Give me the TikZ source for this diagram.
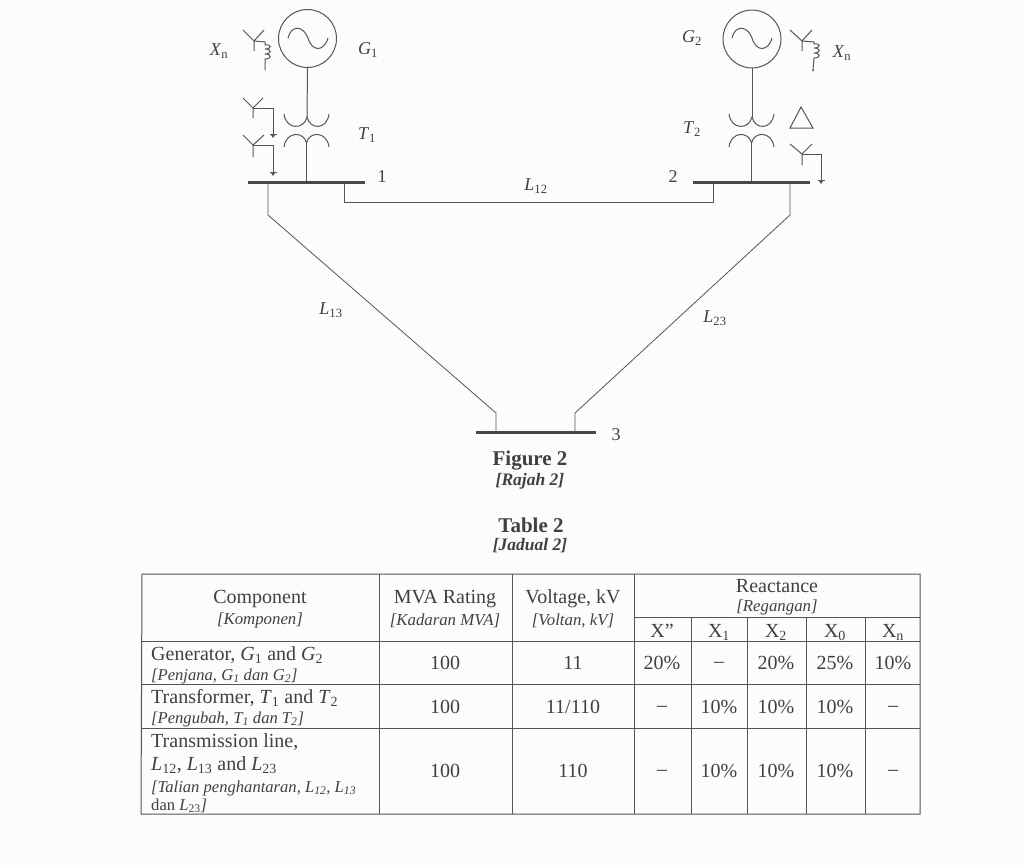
\documentclass[tikz,border=0pt]{standalone}
\usepackage{fontspec}
\setmainfont{Liberation Serif}
\definecolor{ink}{HTML}{404040}
\definecolor{wire}{HTML}{555555}
\newcommand{\sz}[1]{\fontsize{#1}{#1}\selectfont}
\newcommand{\isb}[1]{\textsubscript{#1}}
\tikzset{
  x=1pt,y=-1pt,
  wireline/.style={draw=wire,line width=1pt},
  thinwire/.style={draw=wire,line width=0.8pt},
  gridline/.style={draw=wire,line width=1pt},
  busbar/.style={rectangle,fill=wire!85!black,draw=none,minimum height=3.5pt,inner sep=0pt,outer sep=0pt},
  gen/.style={circle,draw=wire,line width=1pt,minimum size=58pt,inner sep=0pt,outer sep=0pt},
  lab/.style={text=ink,inner sep=0pt,font=\sz{18}},
  big/.style={text=ink,inner sep=0pt,font=\sz{20}},
  small/.style={text=ink,inner sep=0pt,font=\sz{16.8}\itshape},
  bigl/.style={text=ink,inner sep=0pt,font=\sz{20},anchor=base west},
  bigb/.style={text=ink,inner sep=0pt,font=\sz{20},anchor=base},
  smalll/.style={text=ink,inner sep=0pt,font=\sz{16.6}\itshape,anchor=base west},
  captext/.style={text=ink,inner sep=0pt,font=\sz{21}\bfseries},
  subcaptext/.style={text=ink,inner sep=0pt,font=\sz{17.5}\bfseries\itshape},
}
\begin{document}
\begin{tikzpicture}
\useasboundingbox (0,0) rectangle (1024,865);
\fill[white!99!black] (0,0) rectangle (1024,865);

% generators
\node[gen] (g1) at (307.5,38.5) {};
\node[gen] (g2) at (752,39) {};
\draw[wireline] (288,38) .. controls (291,25) and (303,25) .. (308,38) .. controls (312,52) and (324,52) .. (328,38);
\draw[wireline] (732,38) .. controls (735,25) and (747,25) .. (752,38) .. controls (756,52) and (768,52) .. (772,38);

% buses
\node[busbar,minimum width=117pt] (bus1) at (306.5,182.5) {};
\node[busbar,minimum width=117pt] (bus2) at (751.5,182.5) {};
\node[busbar,minimum width=120pt] (bus3) at (536,432.5) {};

% transformer coils
\coordinate (t1u) at (307,117);
\coordinate (t1l) at (306.5,143);
\coordinate (t2u) at (752,117);
\coordinate (t2l) at (751.5,143);
\draw[wireline] (284,114) .. controls (286,130) and (304,130) .. (t1u) .. controls (310,130) and (327,130) .. (329,114);
\draw[wireline] (284,147) .. controls (286,131) and (304,131) .. (t1l) .. controls (309,131) and (327,131) .. (329,147);
\draw[wireline] (729,114) .. controls (731,130) and (749,130) .. (t2u) .. controls (755,130) and (772,130) .. (774,114);
\draw[wireline] (729,147) .. controls (731,131) and (749,131) .. (t2l) .. controls (754,131) and (772,131) .. (774,147);
\draw[wireline] (g1.south) -- (t1u);
\draw[wireline] (t1l) -- (t1l |- bus1.north);
\draw[wireline] (g2.south) -- (t2u);
\draw[wireline] (t2l) -- (t2l |- bus2.north);

% lines
\draw[thinwire] (344,182) -- (344,202) -- (713,202) -- (713,182);
\draw[thinwire] (268,182) -- (268,215) -- (496,413) -- (496,432);
\draw[thinwire] (790,182) -- (790,215) -- (575,413) -- (575,432);

% wye symbols
\draw[wireline] (243,30) -- (254,41) -- (264,30) (254,41) -- (254,51);
\draw[wireline] (254,41) -- (265,42) -- (265,45)
  .. controls (272,44) and (272,49) .. (265,49)
  .. controls (272,49) and (272,54) .. (265,54)
  .. controls (272,54) and (272,59) .. (265,59)
  -- (265,70);
\draw[wireline] (790,30) -- (802,41) -- (812,30) (802,41) -- (802,51);
\draw[wireline] (802,41) -- (814,42) -- (814,44)
  .. controls (821,43) and (821,48) .. (814,48)
  .. controls (821,48) and (821,53) .. (814,53)
  .. controls (821,53) and (821,58) .. (814,58)
  -- (813,70);
\fill[wire] (813,70.5) circle (1pt);

\draw[wireline] (243,98) -- (253,108) -- (263,98) (253,108) -- (253,118);
\draw[wireline] (253,108) -- (273,108) -- (273,134);
\draw[wireline] (269.5,134.5) -- (276.5,134.5);
\fill[wire] (271,135) -- (275,135) -- (273,138) -- cycle;
\draw[wireline] (243,135) -- (253,145) -- (264,135) (253,145) -- (253,157);
\draw[wireline] (253,145.5) -- (273,145.5) -- (273,172);
\draw[wireline] (269.5,172.5) -- (276.5,172.5);
\fill[wire] (271,173) -- (275,173) -- (273,176) -- cycle;

\draw[wireline] (790,128) -- (801,107) -- (813,128) -- cycle;
\draw[wireline] (790,144) -- (802,154) -- (812,144) (802,154) -- (802,165);
\draw[wireline] (802,154.5) -- (821,154.5) -- (821,180);
\draw[wireline] (817.5,180.5) -- (824.5,180.5);
\fill[wire] (819,181) -- (823,181) -- (821,184) -- cycle;

% diagram labels
\node[lab] (xn1) at (219,51) {\textit{X}\isb{n}};
\node[lab] (lg1) at (368,50) {\textit{G}\isb{1}};
\node[lab] (lt1) at (367,135) {\textit{T}\isb{1}};
\node[lab] (n1) at (382,177) {1};
\node[lab] (l12) at (536,186) {\textit{L}\isb{12}};
\node[lab] (n2) at (673,177) {2};
\node[lab] (lg2) at (692,38) {\textit{G}\isb{2}};
\node[lab] (lt2) at (692,129) {\textit{T}\isb{2}};
\node[lab] (xn2) at (842,53) {\textit{X}\isb{n}};
\node[lab] (l13) at (331,310) {\textit{L}\isb{13}};
\node[lab] (l23) at (715,318) {\textit{L}\isb{23}};
\node[lab] (n3) at (616,435) {3};
\node[captext] (fig) at (530,461) {Figure 2};
\node[subcaptext] (raj) at (530,481) {[Rajah 2]};
\node[captext] (tab) at (531,525) {Table 2};
\node[subcaptext] (jad) at (530,546) {[Jadual 2]};

% table grid
\draw[gridline] (142,574) -- (920,574) -- (920,814) -- (141,814) -- cycle;
\draw[gridline] (142,641) -- (920,641);
\draw[gridline] (142,684) -- (920,684);
\draw[gridline] (142,728) -- (920,728);
\draw[gridline] (634,617) -- (920,617);
\draw[gridline] (379,574) -- (379,814);
\draw[gridline] (512,574) -- (512,814);
\draw[gridline] (634,574) -- (634,814);
\draw[gridline] (691,617) -- (691,814);
\draw[gridline] (747,617) -- (747,814);
\draw[gridline] (806,617) -- (806,814);
\draw[gridline] (865,617) -- (865,814);

% table header
\node[big] (h1) at (260,599) {Component};
\node[small] (h1b) at (260,620) {[Komponen]};
\node[big] (h2) at (445,599) {MVA Rating};
\node[small] (h2b) at (445,621) {[Kadaran MVA]};
\node[big] (h3) at (573,599) {Voltage, kV};
\node[small] (h3b) at (573,621) {[Voltan, kV]};
\node[big] (h4) at (777,586) {Reactance};
\node[small] (h4b) at (777,607) {[Regangan]};
\node[bigb] (xa) at (662,637) {X”};
\node[bigb] (xb) at (719,637) {X\isb{1}};
\node[bigb] (xc) at (776,637) {X\isb{2}};
\node[bigb] (xd) at (835,637) {X\isb{0}};
\node[bigb] (xe) at (893,637) {X\isb{n}};

% first column
\node[bigl] (r1a) at (151,660) {Generator, \textit{G}\isb{1} and \textit{G}\isb{2}};
\node[smalll] (r1b) at (151,680) {[Penjana, \textit{G}\isb{1} dan \textit{G}\isb{2}]};
\node[bigl] (r2a) at (151,703) {Transformer, \textit{T}\isb{1} and \textit{T}\isb{2}};
\node[smalll] (r2b) at (151,723) {[Pengubah, \textit{T}\isb{1} dan \textit{T}\isb{2}]};
\node[bigl] (r3a) at (151,747) {Transmission line,};
\node[bigl] (r3b) at (151,770) {\textit{L}\isb{12}, \textit{L}\isb{13} and \textit{L}\isb{23}};
\node[smalll] (r3c) at (151,792) {[Talian penghantaran, \textit{L}\isb{12}, \textit{L}\isb{13}};
\node[smalll] (r3d) at (151,810) {\upshape dan \textit{L}\isb{23}\textit{]}};

% data rows
\node[big] (a1) at (445,663) {100};
\node[big] (a2) at (445,707) {100};
\node[big] (a3) at (445,771) {100};
\node[big] (b1) at (573,663) {11};
\node[big] (b2) at (573,707) {11/110};
\node[big] (b3) at (573,771) {110};
\node[big] (c1) at (662,663) {20\%};
\node[big] (c2) at (662,708.5) {–};
\node[big] (c3) at (662,772.5) {–};
\node[big] (d1) at (719,664.5) {–};
\node[big] (d2) at (719,707) {10\%};
\node[big] (d3) at (719,771) {10\%};
\node[big] (e1) at (776,663) {20\%};
\node[big] (e2) at (776,707) {10\%};
\node[big] (e3) at (776,771) {10\%};
\node[big] (f1) at (835,663) {25\%};
\node[big] (f2) at (835,707) {10\%};
\node[big] (f3) at (835,771) {10\%};
\node[big] (g1v) at (893,663) {10\%};
\node[big] (g2v) at (893,708.5) {–};
\node[big] (g3v) at (893,772.5) {–};
\end{tikzpicture}
\end{document}
